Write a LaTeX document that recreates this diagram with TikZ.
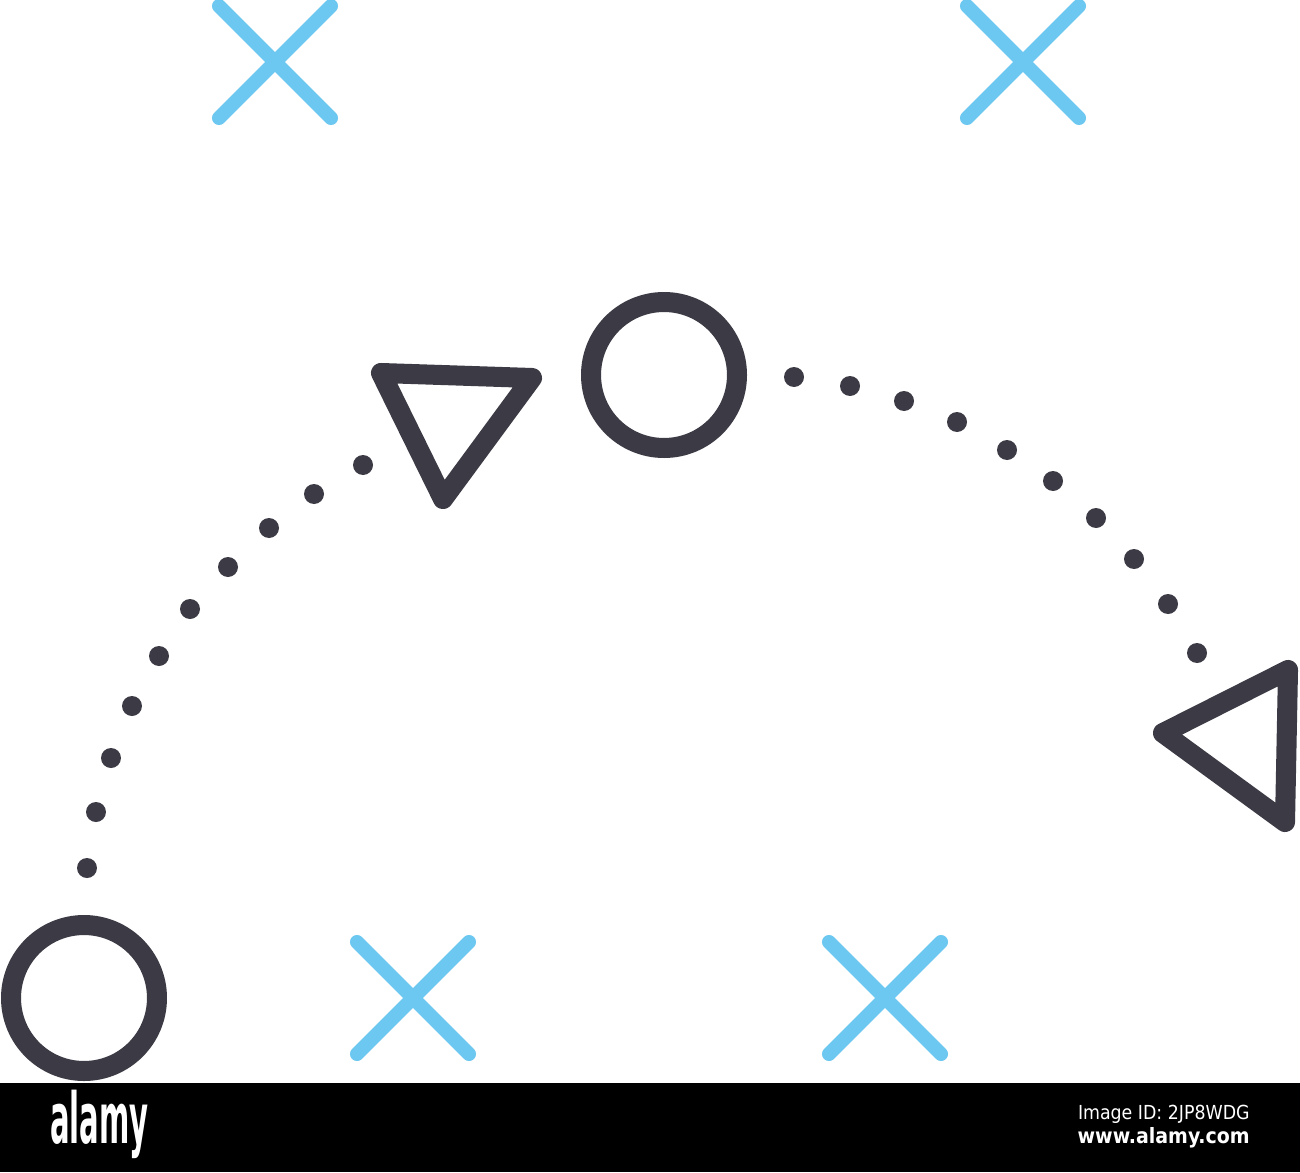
\documentclass[tikz,border=0pt]{standalone}
\usepackage{fontspec}
\setmainfont{DejaVu Sans}
\newfontfamily\condfont{DejaVu Sans Condensed}
\begin{document}
\begin{tikzpicture}[x=0.02cm,y=-0.02cm,
  dark/.style={draw=darkc, line width=11.4pt, line join=round, line cap=round},
  ring/.style={dark, circle, minimum size=2.92cm, inner sep=0pt},
  dotn/.style={circle, fill=darkc, minimum size=0.4cm, inner sep=0pt},
  xmark/.style={draw=bluec, line width=8pt, line cap=round}]
\definecolor{darkc}{HTML}{3C3B45}
\definecolor{bluec}{HTML}{6CC8F0}
\useasboundingbox (0,0) rectangle (1300,1172);
\fill[white] (0,0) rectangle (1300,1083);
\fill[black] (0,1083) rectangle (1300,1172);
% X marks
\foreach \n/\cx/\cy in {xa/275/62, xb/1023/62, xc/413/998, xd/885/998}{
  \coordinate (\n) at (\cx,\cy);
  \draw[xmark] ([shift={(-56,-56)}]\n) -- ([shift={(56,56)}]\n);
  \draw[xmark] ([shift={(-56,56)}]\n) -- ([shift={(56,-56)}]\n);
}
% circles
\node[ring] (c1) at (84,998) {};
\node[ring] (c2) at (664,375) {};
% triangles
\coordinate (t1a) at (381,373);
\coordinate (t1b) at (532,378);
\coordinate (t1c) at (443,499);
\draw[dark] (t1a) -- (t1b) -- (t1c) -- cycle;
\coordinate (t2a) at (1288,670);
\coordinate (t2b) at (1163,733);
\coordinate (t2c) at (1285,822);
\draw[dark] (t2a) -- (t2b) -- (t2c) -- cycle;
% dots
\foreach \i/\px/\py in {1/87/868, 2/96/812, 3/111/758, 4/132/706, 5/159/656, 6/190/609, 7/228/567, 8/269/528, 9/314/494, 10/363/465}{
  \node[dotn] (l\i) at (\px,\py) {};
}
\foreach \i/\px/\py in {1/794/377, 2/850/386, 3/904/401, 4/957/422, 5/1007/450, 6/1053/481, 7/1096/518, 8/1134/559, 9/1168/604, 10/1197/653}{
  \node[dotn] (r\i) at (\px,\py) {};
}
% watermark bar
\node[text=white, anchor=west, xscale=0.46, inner sep=0pt] (logo) at (50,1124) {\condfont\bfseries\fontsize{40}{40}\selectfont alamy};
\node[text=white, anchor=east, inner sep=0pt] (imgid) at (1250,1114) {\condfont\fontsize{11}{11}\selectfont Image ID: 2JP8WDG};
\node[text=white, anchor=east, inner sep=0pt] (web) at (1250,1138) {\condfont\bfseries\fontsize{12}{12}\selectfont www.alamy.com};
\end{tikzpicture}
\end{document}
